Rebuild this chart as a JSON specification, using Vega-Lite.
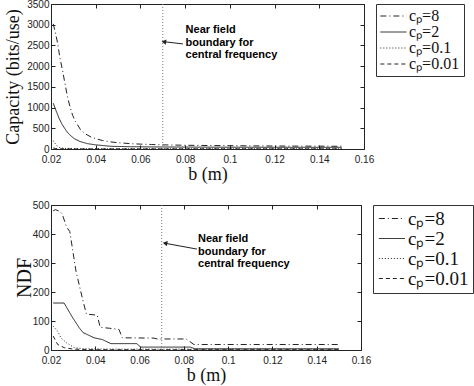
{
  "$schema": "https://vega.github.io/schema/vega-lite/v6.json",
  "padding": {"left": 4, "top": -2, "right": 1, "bottom": 0},
  "spacing": 15,
  "resolve": {"scale": {"strokeDash": "independent"}, "legend": {"strokeDash": "independent"}},
  "config": {
    "view": {"stroke": "#222", "strokeWidth": 1},
    "axis": {"grid": false, "tickSize": -4, "labelPadding": 6, "labelFont": "Liberation Sans", "labelFontSize": 10, "labelColor": "#222", "tickColor": "#222", "domainColor": "#222", "titleFont": "Liberation Serif", "titleFontWeight": "normal", "titleColor": "#111", "labelFlush": false, "labelOverlap": false},
    "axisX": {"labelPadding": 9},
    "legend": {"title": null, "orient": "right", "offset": 11, "strokeColor": "#333", "fillColor": "white", "padding": 4, "labelFont": "Liberation Serif", "symbolType": "M-1.7,0H4.1", "symbolSize": 81, "symbolStrokeWidth": 1, "symbolStrokeColor": "#222", "rowPadding": 0, "labelColor": "#111"}
  },
  "datasets": {
    "cap": [
      {"b": 0.021, "v": 3020, "s": "cₚ=8"}, {"b": 0.022, "v": 2800, "s": "cₚ=8"}, {"b": 0.023, "v": 2540, "s": "cₚ=8"}, {"b": 0.024, "v": 2200, "s": "cₚ=8"}, {"b": 0.0252, "v": 1890, "s": "cₚ=8"}, {"b": 0.026, "v": 1650, "s": "cₚ=8"}, {"b": 0.0274, "v": 1250, "s": "cₚ=8"}, {"b": 0.0285, "v": 1020, "s": "cₚ=8"}, {"b": 0.0297, "v": 810, "s": "cₚ=8"}, {"b": 0.031, "v": 660, "s": "cₚ=8"}, {"b": 0.0334, "v": 450, "s": "cₚ=8"}, {"b": 0.0355, "v": 360, "s": "cₚ=8"}, {"b": 0.0379, "v": 290, "s": "cₚ=8"}, {"b": 0.04, "v": 250, "s": "cₚ=8"}, {"b": 0.043, "v": 205, "s": "cₚ=8"}, {"b": 0.0468, "v": 170, "s": "cₚ=8"}, {"b": 0.05, "v": 152, "s": "cₚ=8"}, {"b": 0.0558, "v": 128, "s": "cₚ=8"}, {"b": 0.06, "v": 118, "s": "cₚ=8"}, {"b": 0.065, "v": 108, "s": "cₚ=8"}, {"b": 0.07, "v": 100, "s": "cₚ=8"}, {"b": 0.08, "v": 90, "s": "cₚ=8"}, {"b": 0.09, "v": 84, "s": "cₚ=8"}, {"b": 0.1, "v": 80, "s": "cₚ=8"}, {"b": 0.11, "v": 76, "s": "cₚ=8"}, {"b": 0.12, "v": 72, "s": "cₚ=8"}, {"b": 0.13, "v": 70, "s": "cₚ=8"}, {"b": 0.14, "v": 68, "s": "cₚ=8"}, {"b": 0.15, "v": 66, "s": "cₚ=8"},
      {"b": 0.021, "v": 1105, "s": "cₚ=2"}, {"b": 0.022, "v": 960, "s": "cₚ=2"}, {"b": 0.0237, "v": 730, "s": "cₚ=2"}, {"b": 0.025, "v": 590, "s": "cₚ=2"}, {"b": 0.0267, "v": 450, "s": "cₚ=2"}, {"b": 0.028, "v": 360, "s": "cₚ=2"}, {"b": 0.0304, "v": 250, "s": "cₚ=2"}, {"b": 0.033, "v": 180, "s": "cₚ=2"}, {"b": 0.0364, "v": 128, "s": "cₚ=2"}, {"b": 0.04, "v": 100, "s": "cₚ=2"}, {"b": 0.0468, "v": 65, "s": "cₚ=2"}, {"b": 0.0558, "v": 55, "s": "cₚ=2"}, {"b": 0.065, "v": 50, "s": "cₚ=2"}, {"b": 0.08, "v": 46, "s": "cₚ=2"}, {"b": 0.1, "v": 43, "s": "cₚ=2"}, {"b": 0.12, "v": 41, "s": "cₚ=2"}, {"b": 0.15, "v": 40, "s": "cₚ=2"},
      {"b": 0.021, "v": 200, "s": "cₚ=0.1"}, {"b": 0.022, "v": 120, "s": "cₚ=0.1"}, {"b": 0.023, "v": 60, "s": "cₚ=0.1"}, {"b": 0.024, "v": 30, "s": "cₚ=0.1"}, {"b": 0.026, "v": 15, "s": "cₚ=0.1"}, {"b": 0.03, "v": 8, "s": "cₚ=0.1"}, {"b": 0.04, "v": 5, "s": "cₚ=0.1"}, {"b": 0.06, "v": 4, "s": "cₚ=0.1"}, {"b": 0.1, "v": 4, "s": "cₚ=0.1"}, {"b": 0.15, "v": 4, "s": "cₚ=0.1"},
      {"b": 0.021, "v": 25, "s": "cₚ=0.01"}, {"b": 0.022, "v": 12, "s": "cₚ=0.01"}, {"b": 0.024, "v": 6, "s": "cₚ=0.01"}, {"b": 0.027, "v": 3, "s": "cₚ=0.01"}, {"b": 0.035, "v": 2, "s": "cₚ=0.01"}, {"b": 0.15, "v": 2, "s": "cₚ=0.01"}
    ],
    "ndf": [
      {"b": 0.021, "v": 480, "s": "cₚ=8"}, {"b": 0.022, "v": 484, "s": "cₚ=8"}, {"b": 0.024, "v": 478, "s": "cₚ=8"}, {"b": 0.025, "v": 470, "s": "cₚ=8"}, {"b": 0.027, "v": 425, "s": "cₚ=8"}, {"b": 0.0285, "v": 408, "s": "cₚ=8"}, {"b": 0.0313, "v": 271, "s": "cₚ=8"}, {"b": 0.0343, "v": 174, "s": "cₚ=8"}, {"b": 0.036, "v": 124, "s": "cₚ=8"}, {"b": 0.0409, "v": 120, "s": "cₚ=8"}, {"b": 0.0422, "v": 78, "s": "cₚ=8"}, {"b": 0.0465, "v": 75, "s": "cₚ=8"}, {"b": 0.0507, "v": 71, "s": "cₚ=8"}, {"b": 0.0522, "v": 42, "s": "cₚ=8"}, {"b": 0.0665, "v": 41, "s": "cₚ=8"}, {"b": 0.068, "v": 38, "s": "cₚ=8"}, {"b": 0.0811, "v": 38, "s": "cₚ=8"}, {"b": 0.0845, "v": 19, "s": "cₚ=8"}, {"b": 0.15, "v": 19, "s": "cₚ=8"},
      {"b": 0.021, "v": 162, "s": "cₚ=2"}, {"b": 0.0259, "v": 162, "s": "cₚ=2"}, {"b": 0.0295, "v": 115, "s": "cₚ=2"}, {"b": 0.0327, "v": 77, "s": "cₚ=2"}, {"b": 0.0345, "v": 60, "s": "cₚ=2"}, {"b": 0.0395, "v": 42, "s": "cₚ=2"}, {"b": 0.0432, "v": 36, "s": "cₚ=2"}, {"b": 0.047, "v": 22, "s": "cₚ=2"}, {"b": 0.0587, "v": 22, "s": "cₚ=2"}, {"b": 0.0605, "v": 10, "s": "cₚ=2"}, {"b": 0.083, "v": 10, "s": "cₚ=2"}, {"b": 0.085, "v": 4, "s": "cₚ=2"}, {"b": 0.15, "v": 4, "s": "cₚ=2"},
      {"b": 0.021, "v": 82, "s": "cₚ=0.1"}, {"b": 0.023, "v": 65, "s": "cₚ=0.1"}, {"b": 0.0245, "v": 42, "s": "cₚ=0.1"}, {"b": 0.027, "v": 25, "s": "cₚ=0.1"}, {"b": 0.0305, "v": 8, "s": "cₚ=0.1"}, {"b": 0.035, "v": 4, "s": "cₚ=0.1"}, {"b": 0.05, "v": 3, "s": "cₚ=0.1"}, {"b": 0.15, "v": 3, "s": "cₚ=0.1"},
      {"b": 0.021, "v": 48, "s": "cₚ=0.01"}, {"b": 0.023, "v": 19, "s": "cₚ=0.01"}, {"b": 0.026, "v": 8, "s": "cₚ=0.01"}, {"b": 0.03, "v": 3, "s": "cₚ=0.01"}, {"b": 0.04, "v": 1, "s": "cₚ=0.01"}, {"b": 0.15, "v": 1, "s": "cₚ=0.01"}
    ]
  },
  "vconcat": [
    {
      "width": 313,
      "height": 145,
      "resolve": {"axis": {"x": "independent", "y": "independent"}},
      "layer": [
        {
          "data": {"name": "cap"},
          "mark": {"type": "line", "color": "#222", "strokeWidth": 1},
          "encoding": {
            "x": {"field": "b", "type": "quantitative", "scale": {"domain": [0.02, 0.16], "nice": false}, "axis": {"values": [0.02, 0.04, 0.06, 0.08, 0.1, 0.12, 0.14, 0.16], "format": ".2~f", "title": "b (m)", "titleFontSize": 18, "titlePadding": 1}},
            "y": {"field": "v", "type": "quantitative", "scale": {"domain": [0, 3500], "nice": false}, "axis": {"values": [0, 500, 1000, 1500, 2000, 2500, 3000, 3500], "format": "d", "title": "Capacity (bits/use)", "titleFontSize": 18, "titlePadding": 4}},
            "strokeDash": {"field": "s", "type": "nominal", "scale": {"domain": ["cₚ=8", "cₚ=2", "cₚ=0.1", "cₚ=0.01"], "range": [[6, 3, 1, 3], [1, 0], [1, 2], [4, 3]]}, "legend": {"labelFontSize": 16, "labelOffset": 13}}
          }
        },
        {
          "data": {"values": [{"b": 0.07}]},
          "mark": {"type": "rule", "color": "#777", "strokeDash": [1, 2], "strokeWidth": 1},
          "encoding": {"x": {"field": "b", "type": "quantitative", "axis": {"orient": "top", "labels": false, "title": null, "domain": false, "values": [0.02, 0.04, 0.06, 0.08, 0.1, 0.12, 0.14, 0.16]}}}
        },
        {
          "data": {"values": [{"b": 0.0802, "v": 2870, "t": "Near field\nboundary for\ncentral frequency"}]},
          "mark": {"type": "text", "align": "left", "baseline": "middle", "lineBreak": "\n", "lineHeight": 12.5, "font": "Liberation Sans", "fontWeight": "bold", "fontSize": 11, "color": "#000"},
          "encoding": {"x": {"field": "b", "type": "quantitative", "axis": null}, "y": {"field": "v", "type": "quantitative", "axis": null}, "text": {"field": "t"}}
        },
        {
          "data": {"values": [{"b": 0.079, "v": 2536, "b2": 0.0705, "v2": 2590}]},
          "mark": {"type": "rule", "color": "#222", "strokeWidth": 1},
          "encoding": {"x": {"field": "b", "type": "quantitative", "axis": null}, "y": {"field": "v", "type": "quantitative", "axis": {"orient": "right", "labels": false, "title": null, "domain": false, "values": [0, 500, 1000, 1500, 2000, 2500, 3000, 3500]}}, "x2": {"field": "b2"}, "y2": {"field": "v2"}}
        },
        {
          "data": {"values": [{"b": 0.0705, "v": 2590}]},
          "mark": {"type": "point", "shape": "triangle-left", "filled": true, "color": "#222", "size": 28, "angle": 8, "opacity": 1},
          "encoding": {"x": {"field": "b", "type": "quantitative", "axis": null}, "y": {"field": "v", "type": "quantitative", "axis": null}}
        }
      ]
    },
    {
      "width": 310,
      "height": 145,
      "resolve": {"axis": {"x": "independent", "y": "independent"}},
      "layer": [
        {
          "data": {"name": "ndf"},
          "mark": {"type": "line", "color": "#222", "strokeWidth": 1},
          "encoding": {
            "x": {"field": "b", "type": "quantitative", "scale": {"domain": [0.02, 0.16], "nice": false}, "axis": {"values": [0.02, 0.04, 0.06, 0.08, 0.1, 0.12, 0.14, 0.16], "format": ".2~f", "title": "b (m)", "titleFontSize": 18, "titlePadding": 1}},
            "y": {"field": "v", "type": "quantitative", "scale": {"domain": [0, 500], "nice": false}, "axis": {"values": [0, 100, 200, 300, 400, 500], "format": "d", "title": "NDF", "titleFontSize": 20, "titlePadding": -2}},
            "strokeDash": {"field": "s", "type": "nominal", "scale": {"domain": ["cₚ=8", "cₚ=2", "cₚ=0.1", "cₚ=0.01"], "range": [[6, 3, 1, 3], [1, 0], [1, 2], [4, 3]]}, "legend": {"labelFontSize": 19, "labelOffset": 12}}
          }
        },
        {
          "data": {"values": [{"b": 0.07}]},
          "mark": {"type": "rule", "color": "#777", "strokeDash": [1, 2], "strokeWidth": 1},
          "encoding": {"x": {"field": "b", "type": "quantitative", "axis": {"orient": "top", "labels": false, "title": null, "domain": false, "values": [0.02, 0.04, 0.06, 0.08, 0.1, 0.12, 0.14, 0.16]}}}
        },
        {
          "data": {"values": [{"b": 0.0864, "v": 382, "t": "Near field\nboundary for\ncentral frequency"}]},
          "mark": {"type": "text", "align": "left", "baseline": "middle", "lineBreak": "\n", "lineHeight": 12.5, "font": "Liberation Sans", "fontWeight": "bold", "fontSize": 11, "color": "#000"},
          "encoding": {"x": {"field": "b", "type": "quantitative", "axis": null}, "y": {"field": "v", "type": "quantitative", "axis": null}, "text": {"field": "t"}}
        },
        {
          "data": {"values": [{"b": 0.0859, "v": 348, "b2": 0.0715, "v2": 368}]},
          "mark": {"type": "rule", "color": "#222", "strokeWidth": 1},
          "encoding": {"x": {"field": "b", "type": "quantitative", "axis": null}, "y": {"field": "v", "type": "quantitative", "axis": {"orient": "right", "labels": false, "title": null, "domain": false, "values": [0, 100, 200, 300, 400, 500]}}, "x2": {"field": "b2"}, "y2": {"field": "v2"}}
        },
        {
          "data": {"values": [{"b": 0.0715, "v": 368}]},
          "mark": {"type": "point", "shape": "triangle-left", "filled": true, "color": "#222", "size": 28, "angle": 11, "opacity": 1},
          "encoding": {"x": {"field": "b", "type": "quantitative", "axis": null}, "y": {"field": "v", "type": "quantitative", "axis": null}}
        }
      ]
    }
  ]
}
